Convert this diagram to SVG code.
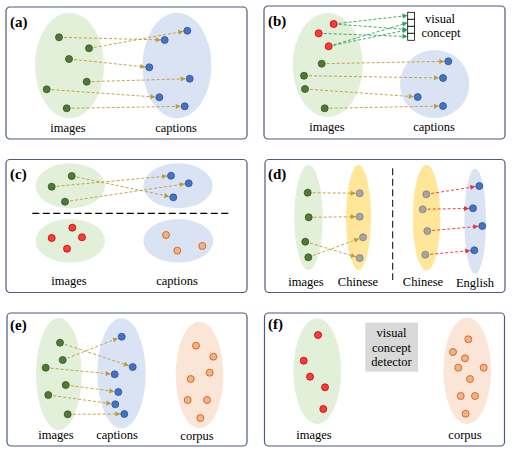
<svg xmlns="http://www.w3.org/2000/svg" width="512" height="451" viewBox="0 0 512 451" font-family="'Liberation Serif', 'Times New Roman', serif">
<defs>
<marker id="mg" markerUnits="userSpaceOnUse" markerWidth="12" markerHeight="6" refX="9" refY="2.5" orient="auto" overflow="visible"><path d="M0,0 L5,2.5 L0,5 Z" fill="#bf9b30"/></marker>
<marker id="mv" markerUnits="userSpaceOnUse" markerWidth="12" markerHeight="6" refX="5" refY="2.5" orient="auto" overflow="visible"><path d="M0,0 L5,2.5 L0,5 Z" fill="#2f9e5c"/></marker>
<marker id="mr" markerUnits="userSpaceOnUse" markerWidth="12" markerHeight="6" refX="9" refY="2.5" orient="auto" overflow="visible"><path d="M0,0 L5,2.5 L0,5 Z" fill="#e8303a"/></marker>
</defs>
<style>
.panel{fill:#fff;stroke:#4d5b7c;stroke-width:1.2}
.eg{fill:#e2efd9}.eb{fill:#dae3f3}.ey{fill:#ffe699}.eo{fill:#fbe5d6}
.ng{fill:#4f7a33;stroke:#375623;stroke-width:0.8}
.nb{fill:#4472c4;stroke:#2f5597;stroke-width:0.8}
.nr{fill:#ff3b3b;stroke:#c00000;stroke-width:0.8}
.no{fill:#f4b183;stroke:#c55a11;stroke-width:0.8}
.ny{fill:#a5a5a5;stroke:#7f7f7f;stroke-width:0.8}
.cg{stroke:#bf9b30;stroke-width:0.9;stroke-dasharray:3 2;fill:none;marker-end:url(#mg)}
.cv{stroke:#2f9e5c;stroke-width:0.9;stroke-dasharray:3 2;fill:none;marker-end:url(#mv)}
.cr{stroke:#e8303a;stroke-width:0.9;stroke-dasharray:3 2;fill:none;marker-end:url(#mr)}
text{font-family:'Liberation Serif','Times New Roman',serif;fill:#000}
.t{font-size:12.5px;text-anchor:middle}
.lb{font-size:15px;font-weight:bold}
</style>

<!-- Panel (a) -->
<g id="panel-a">
<rect class="panel" x="6" y="7" width="241" height="132" rx="4"/>
<text class="lb" x="10" y="27">(a)</text>
<ellipse id="a-images" class="eg" cx="69.5" cy="65.5" rx="34.5" ry="52.7"/>
<ellipse id="a-captions" class="eb" cx="177" cy="65.5" rx="34.5" ry="52.7"/>
<text class="t" x="68" y="132">images</text>
<text class="t" x="176" y="132">captions</text>
</g>
<!-- Panel (b) -->
<g id="panel-b">
<rect class="panel" x="264" y="6" width="241" height="133" rx="4"/>
<text class="lb" x="268" y="26">(b)</text>
<ellipse id="b-images" class="eg" cx="327.7" cy="65" rx="35" ry="52"/>
<ellipse id="b-captions" class="eb" cx="434.7" cy="84" rx="34.7" ry="34"/>
<g id="b-visual-concept" fill="#fff" stroke="#000" stroke-width="0.8">
<rect x="407.7" y="12.3" width="6.7" height="7"/>
<rect x="407.7" y="19.3" width="6.7" height="7"/>
<rect x="407.7" y="26.3" width="6.7" height="7"/>
<rect x="407.7" y="33.3" width="6.7" height="7"/>
</g>
<text class="t" x="440" y="23">visual</text>
<text class="t" x="441" y="37">concept</text>
<text class="t" x="327" y="131">images</text>
<text class="t" x="434" y="131">captions</text>
</g>
<!-- Panel (c) -->
<g id="panel-c">
<rect class="panel" x="6" y="159.5" width="241" height="133" rx="4"/>
<text class="lb" x="10" y="179">(c)</text>
<ellipse class="eg" cx="70.3" cy="185.8" rx="34.7" ry="22.5"/>
<ellipse class="eb" cx="178" cy="185.8" rx="34.7" ry="22.5"/>
<ellipse class="eg" cx="70.3" cy="240.8" rx="34.7" ry="21.8"/>
<ellipse class="eb" cx="178.3" cy="240.8" rx="35" ry="21.8"/>
<line x1="32.3" y1="213.3" x2="229.3" y2="213.3" stroke="#000" stroke-width="1.2" stroke-dasharray="7 3.5"/>
<text class="t" x="69" y="285">images</text>
<text class="t" x="177" y="285">captions</text>
</g>
<!-- Panel (d) -->
<g id="panel-d">
<rect class="panel" x="265" y="159.5" width="240" height="133" rx="4"/>
<text class="lb" x="268" y="179">(d)</text>
<ellipse class="eg" cx="308.5" cy="217.5" rx="14.2" ry="52.5"/>
<ellipse class="ey" cx="358.5" cy="217.5" rx="12.5" ry="52.5"/>
<ellipse class="ey" cx="426.5" cy="217.8" rx="13.8" ry="52.8"/>
<ellipse class="eb" cx="475.2" cy="221.2" rx="10.8" ry="52.8"/>
<line x1="392.7" y1="168.3" x2="392.7" y2="280" stroke="#000" stroke-width="1" stroke-dasharray="7 3.5"/>
<text class="t" x="306" y="286">images</text>
<text class="t" x="358" y="286">Chinese</text>
<text class="t" x="423" y="286">Chinese</text>
<text class="t" x="475" y="287">English</text>
</g>
<!-- Panel (e) -->
<g id="panel-e">
<rect class="panel" x="7" y="313" width="240" height="133" rx="4"/>
<text class="lb" x="10" y="330">(e)</text>
<ellipse class="eg" cx="58.8" cy="374" rx="22.8" ry="56"/>
<ellipse class="eb" cx="121.5" cy="373.3" rx="24.2" ry="55"/>
<ellipse class="eo" cx="199.5" cy="375" rx="23.8" ry="53.3"/>
<text class="t" x="56" y="439">images</text>
<text class="t" x="117" y="439">captions</text>
<text class="t" x="197" y="440">corpus</text>
</g>
<!-- Panel (f) -->
<g id="panel-f">
<rect class="panel" x="264.5" y="313" width="240" height="133" rx="4"/>
<text class="lb" x="268" y="329">(f)</text>
<ellipse class="eg" cx="317.2" cy="371.2" rx="23.8" ry="52.8"/>
<ellipse class="eo" cx="467.2" cy="370.7" rx="23.8" ry="53.3"/>
<g id="f-detector">
<rect x="365.3" y="322.7" width="52.7" height="49" fill="#d9d9d9"/>
<text class="t" x="391.5" y="337">visual</text>
<text class="t" x="391.5" y="352">concept</text>
<text class="t" x="391.5" y="366">detector</text>
</g>
<text class="t" x="314" y="439">images</text>
<text class="t" x="465" y="439">corpus</text>
</g>

<!-- Connectors -->
<g id="connectors">
<line class="cg" x1="59" y1="37.3" x2="164.7" y2="40"/>
<line class="cg" x1="89" y1="48.3" x2="187.3" y2="30.7"/>
<line class="cg" x1="69" y1="59" x2="149.3" y2="67.3"/>
<line class="cg" x1="86.7" y1="81.7" x2="189.7" y2="78.7"/>
<line class="cg" x1="46.7" y1="89.3" x2="159.3" y2="97.3"/>
<line class="cg" x1="66.7" y1="108.3" x2="184.7" y2="106.3"/>

<line class="cv" x1="333.7" y1="24" x2="407.5" y2="15.5"/>
<line class="cv" x1="333.7" y1="24" x2="407.5" y2="29.5"/>
<line class="cv" x1="318.7" y1="33.3" x2="407.5" y2="36.5"/>
<line class="cv" x1="328.7" y1="46.3" x2="407.5" y2="22.8"/>
<line class="cv" x1="328.7" y1="46.3" x2="407.5" y2="29.8"/>

<line class="cg" x1="321.7" y1="63.7" x2="448.3" y2="61.3"/>
<line class="cg" x1="304" y1="75.7" x2="443" y2="78"/>
<line class="cg" x1="305" y1="89" x2="417.7" y2="97"/>
<line class="cg" x1="324.7" y1="108.3" x2="443" y2="106"/>

<line class="cg" x1="71.7" y1="176" x2="173.3" y2="197.3"/>
<line class="cg" x1="51.7" y1="186.7" x2="171" y2="175.7"/>
<line class="cg" x1="65" y1="201.7" x2="188.7" y2="183.3"/>

<line class="cg" x1="307.7" y1="192.7" x2="359.7" y2="193.3"/>
<line class="cg" x1="308.7" y1="217.3" x2="359.7" y2="216.7"/>
<line class="cg" x1="305.3" y1="241.7" x2="359.7" y2="258"/>
<line class="cg" x1="308.3" y1="257.3" x2="363" y2="237.3"/>

<line class="cr" x1="426.3" y1="194.3" x2="479.3" y2="186"/>
<line class="cr" x1="422.7" y1="209.3" x2="473" y2="208.3"/>
<line class="cr" x1="427.3" y1="231" x2="482.3" y2="226"/>
<line class="cr" x1="425.3" y1="254.7" x2="474.3" y2="250.3"/>

<line class="cg" x1="60" y1="342.7" x2="132.7" y2="367"/>
<line class="cg" x1="62.7" y1="360" x2="121.7" y2="336.7"/>
<line class="cg" x1="45.7" y1="367.7" x2="114.7" y2="374.3"/>
<line class="cg" x1="65.7" y1="385" x2="118.3" y2="392"/>
<line class="cg" x1="48.3" y1="395" x2="115.3" y2="404.3"/>
<line class="cg" x1="67.7" y1="414.3" x2="124.3" y2="414"/>
</g>

<!-- Nodes -->
<g id="nodes-a">
<circle class="ng" cx="59" cy="37.3" r="3.5"/><circle class="ng" cx="89" cy="48.3" r="3.5"/><circle class="ng" cx="69" cy="59" r="3.5"/><circle class="ng" cx="86.7" cy="81.7" r="3.5"/><circle class="ng" cx="46.7" cy="89.3" r="3.5"/><circle class="ng" cx="66.7" cy="108.3" r="3.5"/>
<circle class="nb" cx="187.3" cy="30.7" r="3.5"/><circle class="nb" cx="164.7" cy="40" r="3.5"/><circle class="nb" cx="149.3" cy="67.3" r="3.5"/><circle class="nb" cx="189.7" cy="78.7" r="3.5"/><circle class="nb" cx="159.3" cy="97.3" r="3.5"/><circle class="nb" cx="184.7" cy="106.3" r="3.5"/>
</g>
<g id="nodes-b">
<circle class="nr" cx="333.7" cy="24" r="3.5"/><circle class="nr" cx="318.7" cy="33.3" r="3.5"/><circle class="nr" cx="328.7" cy="46.3" r="3.5"/>
<circle class="ng" cx="321.7" cy="63.7" r="3.5"/><circle class="ng" cx="304" cy="75.7" r="3.5"/><circle class="ng" cx="305" cy="89" r="3.5"/><circle class="ng" cx="324.7" cy="108.3" r="3.5"/>
<circle class="nb" cx="448.3" cy="61.3" r="3.5"/><circle class="nb" cx="443" cy="78" r="3.5"/><circle class="nb" cx="417.7" cy="97" r="3.5"/><circle class="nb" cx="443" cy="106" r="3.5"/>
</g>
<g id="nodes-c">
<circle class="ng" cx="71.7" cy="176" r="3.5"/><circle class="ng" cx="51.7" cy="186.7" r="3.5"/><circle class="ng" cx="65" cy="201.7" r="3.5"/>
<circle class="nb" cx="171" cy="175.7" r="3.5"/><circle class="nb" cx="188.7" cy="183.3" r="3.5"/><circle class="nb" cx="173.3" cy="197.3" r="3.5"/>
<circle class="nr" cx="72.3" cy="227.7" r="3.5"/><circle class="nr" cx="51.7" cy="238" r="3.5"/><circle class="nr" cx="82" cy="237.3" r="3.5"/><circle class="nr" cx="67" cy="248.7" r="3.5"/>
<circle class="no" cx="166" cy="235" r="3.5"/><circle class="no" cx="177.3" cy="250.7" r="3.5"/><circle class="no" cx="202.3" cy="246" r="3.5"/>
</g>
<g id="nodes-d">
<circle class="ng" cx="307.7" cy="192.7" r="3.5"/><circle class="ng" cx="308.7" cy="217.3" r="3.5"/><circle class="ng" cx="305.3" cy="241.7" r="3.5"/><circle class="ng" cx="308.3" cy="257.3" r="3.5"/>
<circle class="ny" cx="359.7" cy="193.3" r="3.5"/><circle class="ny" cx="359.7" cy="216.7" r="3.5"/><circle class="ny" cx="363" cy="237.3" r="3.5"/><circle class="ny" cx="359.7" cy="258" r="3.5"/>
<circle class="ny" cx="426.3" cy="194.3" r="3.5"/><circle class="ny" cx="422.7" cy="209.3" r="3.5"/><circle class="ny" cx="427.3" cy="231" r="3.5"/><circle class="ny" cx="425.3" cy="254.7" r="3.5"/>
<circle class="nb" cx="479.3" cy="186" r="3.5"/><circle class="nb" cx="473" cy="208.3" r="3.5"/><circle class="nb" cx="482.3" cy="226" r="3.5"/><circle class="nb" cx="474.3" cy="250.3" r="3.5"/>
</g>
<g id="nodes-e">
<circle class="ng" cx="60" cy="342.7" r="3.5"/><circle class="ng" cx="62.7" cy="360" r="3.5"/><circle class="ng" cx="45.7" cy="367.7" r="3.5"/><circle class="ng" cx="65.7" cy="385" r="3.5"/><circle class="ng" cx="48.3" cy="395" r="3.5"/><circle class="ng" cx="67.7" cy="414.3" r="3.5"/>
<circle class="nb" cx="121.7" cy="336.7" r="3.5"/><circle class="nb" cx="132.7" cy="367" r="3.5"/><circle class="nb" cx="114.7" cy="374.3" r="3.5"/><circle class="nb" cx="118.3" cy="392" r="3.5"/><circle class="nb" cx="115.3" cy="404.3" r="3.5"/><circle class="nb" cx="124.3" cy="414" r="3.5"/>
<circle class="no" cx="196" cy="345.7" r="3.5"/><circle class="no" cx="213.3" cy="356.7" r="3.5"/><circle class="no" cx="209.7" cy="372.7" r="3.5"/><circle class="no" cx="190.7" cy="379" r="3.5"/><circle class="no" cx="187.7" cy="400" r="3.5"/><circle class="no" cx="207" cy="400" r="3.5"/><circle class="no" cx="200.3" cy="418" r="3.5"/>
</g>
<g id="nodes-f">
<circle class="nr" cx="318" cy="335" r="3.5"/><circle class="nr" cx="303.7" cy="360.7" r="3.5"/><circle class="nr" cx="310" cy="376.7" r="3.5"/><circle class="nr" cx="325" cy="387.3" r="3.5"/><circle class="nr" cx="323.3" cy="409" r="3.5"/>
<circle class="no" cx="468.3" cy="339.3" r="3.5"/><circle class="no" cx="453" cy="352" r="3.5"/><circle class="no" cx="465" cy="358.3" r="3.5"/><circle class="no" cx="458.3" cy="367.7" r="3.5"/><circle class="no" cx="483.7" cy="367.7" r="3.5"/><circle class="no" cx="470" cy="379" r="3.5"/><circle class="no" cx="460.7" cy="396" r="3.5"/><circle class="no" cx="475" cy="396" r="3.5"/><circle class="no" cx="465.7" cy="413.7" r="3.5"/>
</g>
</svg>
